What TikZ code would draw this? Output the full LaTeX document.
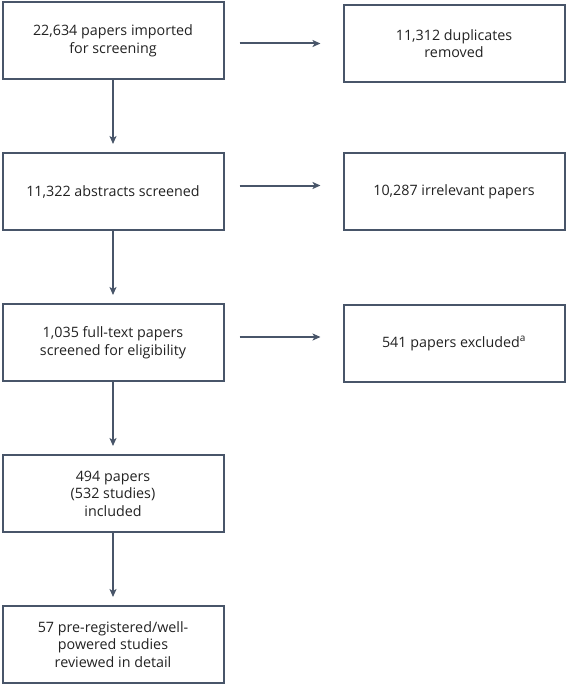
\documentclass[tikz,border=0pt]{standalone}
\usepackage{fontspec}
\setmainfont{Open Sans}
\usepackage{xcolor}
\usetikzlibrary{positioning,arrows.meta}
\definecolor{flowGrey}{HTML}{485569}
\definecolor{flowText}{HTML}{222222}

\tikzset{
    flowbox/.style={rectangle, draw=flowGrey, line width=2pt, text=flowText,
        minimum width=221pt, minimum height=77pt, inner sep=2pt, align=center,
        font=\fontsize{14.3}{17.6}\selectfont},
    flowarrow/.style={draw=flowGrey, line width=2pt,
        -{Stealth[length=8pt, width=7pt, inset=2pt]}}
}

\begin{document}
\begin{tikzpicture}[x=1pt, y=-1pt, node distance=72pt and 118pt]
            \useasboundingbox (0,0) rectangle (568,685);

            \node[flowbox] (imported) at (113,40.5) {22,634 papers imported\\for screening};
            \node[flowbox] (abstracts) [below = of imported] {11,322 abstracts screened};
            \node[flowbox] (fulltext) [below = of abstracts] {1,035 full-text papers\\screened for eligibility};
            \node[flowbox] (included) [below = of fulltext] {494 papers\\(532 studies)\\included};
            \node[flowbox] (detail) [below = of included] {57 pre-registered/well-\\powered studies\\reviewed in detail};

            \node[flowbox] (duplicates) [right = of imported, yshift = -3pt] {11,312 duplicates\\removed};
            \node[flowbox] (irrelevant) [right = of abstracts] {10,287 irrelevant papers};
            \node[flowbox] (excluded) [right = of fulltext, yshift = -1pt] {541 papers excluded\textsuperscript{a}};

            % down the left column
            \draw[flowarrow, shorten >= 8pt] (imported) -- (abstracts);
            \draw[flowarrow, shorten >= 8pt] (abstracts) -- (fulltext);
            \draw[flowarrow, shorten >= 8pt] (fulltext) -- (included);
            \draw[flowarrow, shorten >= 8pt] (included) -- (detail);

            % across to the right column
            \draw[flowarrow, shorten <= 15pt, shorten >= 22pt] ([yshift = -3pt]imported.east) -- ([yshift = -3pt]imported.east -| duplicates.west);
            \draw[flowarrow, shorten <= 15pt, shorten >= 22pt] ([yshift = 6pt]abstracts.east) -- ([yshift = 6pt]abstracts.east -| irrelevant.west);
            \draw[flowarrow, shorten <= 15pt, shorten >= 22pt] ([yshift = 5.5pt]fulltext.east) -- ([yshift = 5.5pt]fulltext.east -| excluded.west);
        \end{tikzpicture}
\end{document}
